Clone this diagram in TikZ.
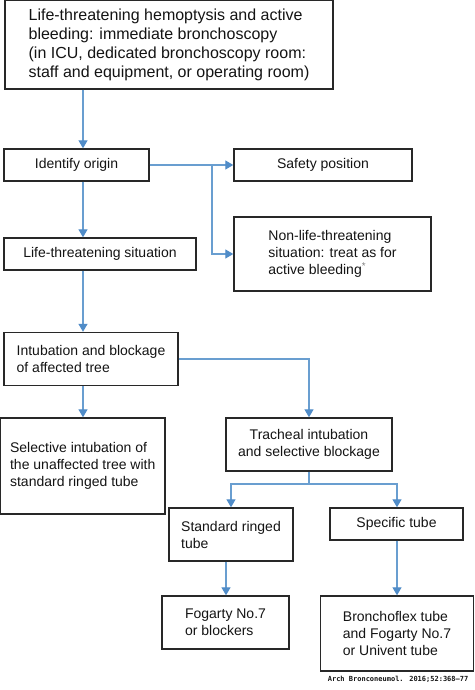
\documentclass[tikz,border=0pt]{standalone}
\usepackage{fontspec}
\setmainfont{Liberation Sans}
\newfontfamily\footfont{DejaVu Sans Mono Bold}
\usetikzlibrary{arrows.meta}
\definecolor{flowblue}{RGB}{105,158,208}
\definecolor{tipblue}{RGB}{80,140,200}
\definecolor{boxline}{RGB}{40,40,40}
\definecolor{txtcol}{RGB}{20,20,20}
\tikzset{
  box/.style={draw=boxline, line width=1.4pt, fill=white, align=left, inner sep=0pt,
    text=txtcol, font=\fontsize{14}{17}\selectfont},
  bigbox/.style={box, font=\fontsize{16}{19.3}\selectfont},
  cbox/.style={box, align=center},
  conn/.style={draw=flowblue, line width=1.2pt},
  arr/.style={conn, -{Triangle[width=9pt,length=8pt,color=tipblue]}}
}
\begin{document}
\begin{tikzpicture}[x=1pt,y=-1pt]
\useasboundingbox[fill=white] (0,0) rectangle (474,690);
% boxes
\node[bigbox, minimum width=328pt, minimum height=88.3pt] (top) at (169,44.85)
  {Life-threatening hemoptysis and active\\bleeding: immediate bronchoscopy\\(in ICU, dedicated bronchoscopy room:\\staff and equipment, or operating room)};
\node[cbox, minimum width=145pt, minimum height=32pt] (id) at (76.5,165) {Identify origin};
\node[cbox, minimum width=178pt, minimum height=32pt] (sf) at (323,165) {Safety position};
\node[box, minimum width=197pt, minimum height=74pt] (nl) at (332.5,254)
  {Non-life-threatening\\situation: treat as for\\active bleeding\textsuperscript{\textcolor{gray}{*}}};
\node[cbox, minimum width=192pt, minimum height=32pt] (lt) at (100,254) {Life-threatening situation};
\node[box, minimum width=174pt, minimum height=53pt] (ib) at (91,359)
  {Intubation and blockage\\of affected tree};
\node[box, minimum width=164.5pt, minimum height=96pt] (sel) at (82.75,466)
  {Selective intubation of\\the unaffected tree with\\standard ringed tube};
\node[cbox, minimum width=166pt, minimum height=53pt] (tr) at (309,444.5)
  {Tracheal intubation\\and selective blockage};
\node[box, minimum width=124pt, minimum height=53pt] (sr) at (231,534.5)
  {Standard ringed\\tube};
\node[cbox, minimum width=133pt, minimum height=32pt] (sp) at (396.5,524) {Specific tube};
\node[box, minimum width=127pt, minimum height=53pt] (fg) at (225.5,622.5)
  {Fogarty No.7\\or blockers};
\node[box, minimum width=153.5pt, minimum height=75pt] (bf) at (397,633.5)
  {Bronchoflex tube\\and Fogarty No.7\\or Univent tube};
\node[anchor=east, inner sep=0pt, text=txtcol, font=\footfont\fontsize{7}{8}\selectfont] (foot) at (468.5,679)
  {Arch Bronconeumol. 2016;52:368–77};
% connector helper coordinates
\coordinate (trunk) at (83,0);
\coordinate (split) at (212,165);
\coordinate (fork) at (309,484);
\coordinate (lowl) at (226,0);
% connectors
\draw[arr] (top.south -| trunk) -- (id.north -| trunk);
\draw[arr] (id.east) -- (sf.west);
\draw[arr] (split) |- (nl.west);
\draw[arr] (id.south -| trunk) -- (lt.north -| trunk);
\draw[arr] (lt.south -| trunk) -- (ib.north -| trunk);
\draw[arr] (ib.south -| trunk) -- (sel.north -| trunk);
\draw[arr] (ib.east) -| (tr.north);
\draw[conn] (tr.south) -- (fork);
\draw[arr] (fork) -| (sr.north);
\draw[arr] (fork) -| (bf.north |- sp.north);
\draw[arr] (sr.south -| lowl) -- (fg.north -| lowl);
\draw[arr] (sp.south -| bf.north) -- (bf.north);
\end{tikzpicture}
\end{document}
